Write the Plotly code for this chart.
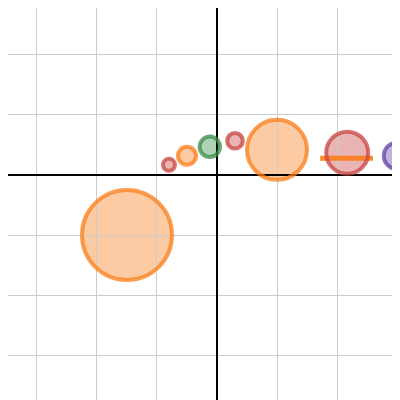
import plotly.graph_objects as go

# circles: center x, center y, radius (graph units), colour
cx = [-0.8, -0.5, -0.12, 0.3, 1.0, 2.17, 3.0, -1.5]
cy = [0.17, 0.32, 0.47, 0.57, 0.42, 0.37, 0.32, -1.0]
rad = [0.1, 0.15, 0.17, 0.13, 0.5, 0.35, 0.22, 0.75]
col = ["#c74440", "#fa7e19", "#388c46", "#c74440", "#fa7e19", "#c74440", "#6042a6", "#fa7e19"]

# orange segment through the red circle
seg_x = [1.72, 2.6]
seg_y = [0.28, 0.28]

fig = go.Figure()
fig.add_trace(go.Scatter(x=seg_x, y=seg_y, mode="lines",
                         line=dict(color="#fa7e19", width=5), opacity=0.9, hoverinfo="skip"))

for x, y, r, c in zip(cx, cy, rad, col):
    fig.add_shape(type="circle", xref="x", yref="y",
                  x0=x - r, x1=x + r, y0=y - r, y1=y + r,
                  fillcolor=c, opacity=0.4, line=dict(width=0), layer="below")
    fig.add_shape(type="circle", xref="x", yref="y",
                  x0=x - r, x1=x + r, y0=y - r, y1=y + r,
                  line=dict(color=c, width=4), opacity=0.75)

fig.update_layout(width=400, height=400, margin=dict(l=0, r=0, t=0, b=0),
                  plot_bgcolor="white", paper_bgcolor="white", showlegend=False)
# ranges offset to allow for the page's 8px body margin
fig.update_xaxes(range=[-3.483, 3.183], dtick=1, tick0=0, showticklabels=False,
                 gridcolor="#cccccc", gridwidth=1, zeroline=True,
                 zerolinecolor="black", zerolinewidth=2)
fig.update_yaxes(range=[-3.883, 2.783], dtick=1, tick0=0, showticklabels=False,
                 gridcolor="#cccccc", gridwidth=1, zeroline=True,
                 zerolinecolor="black", zerolinewidth=2)

fig.write_html("out.html")
